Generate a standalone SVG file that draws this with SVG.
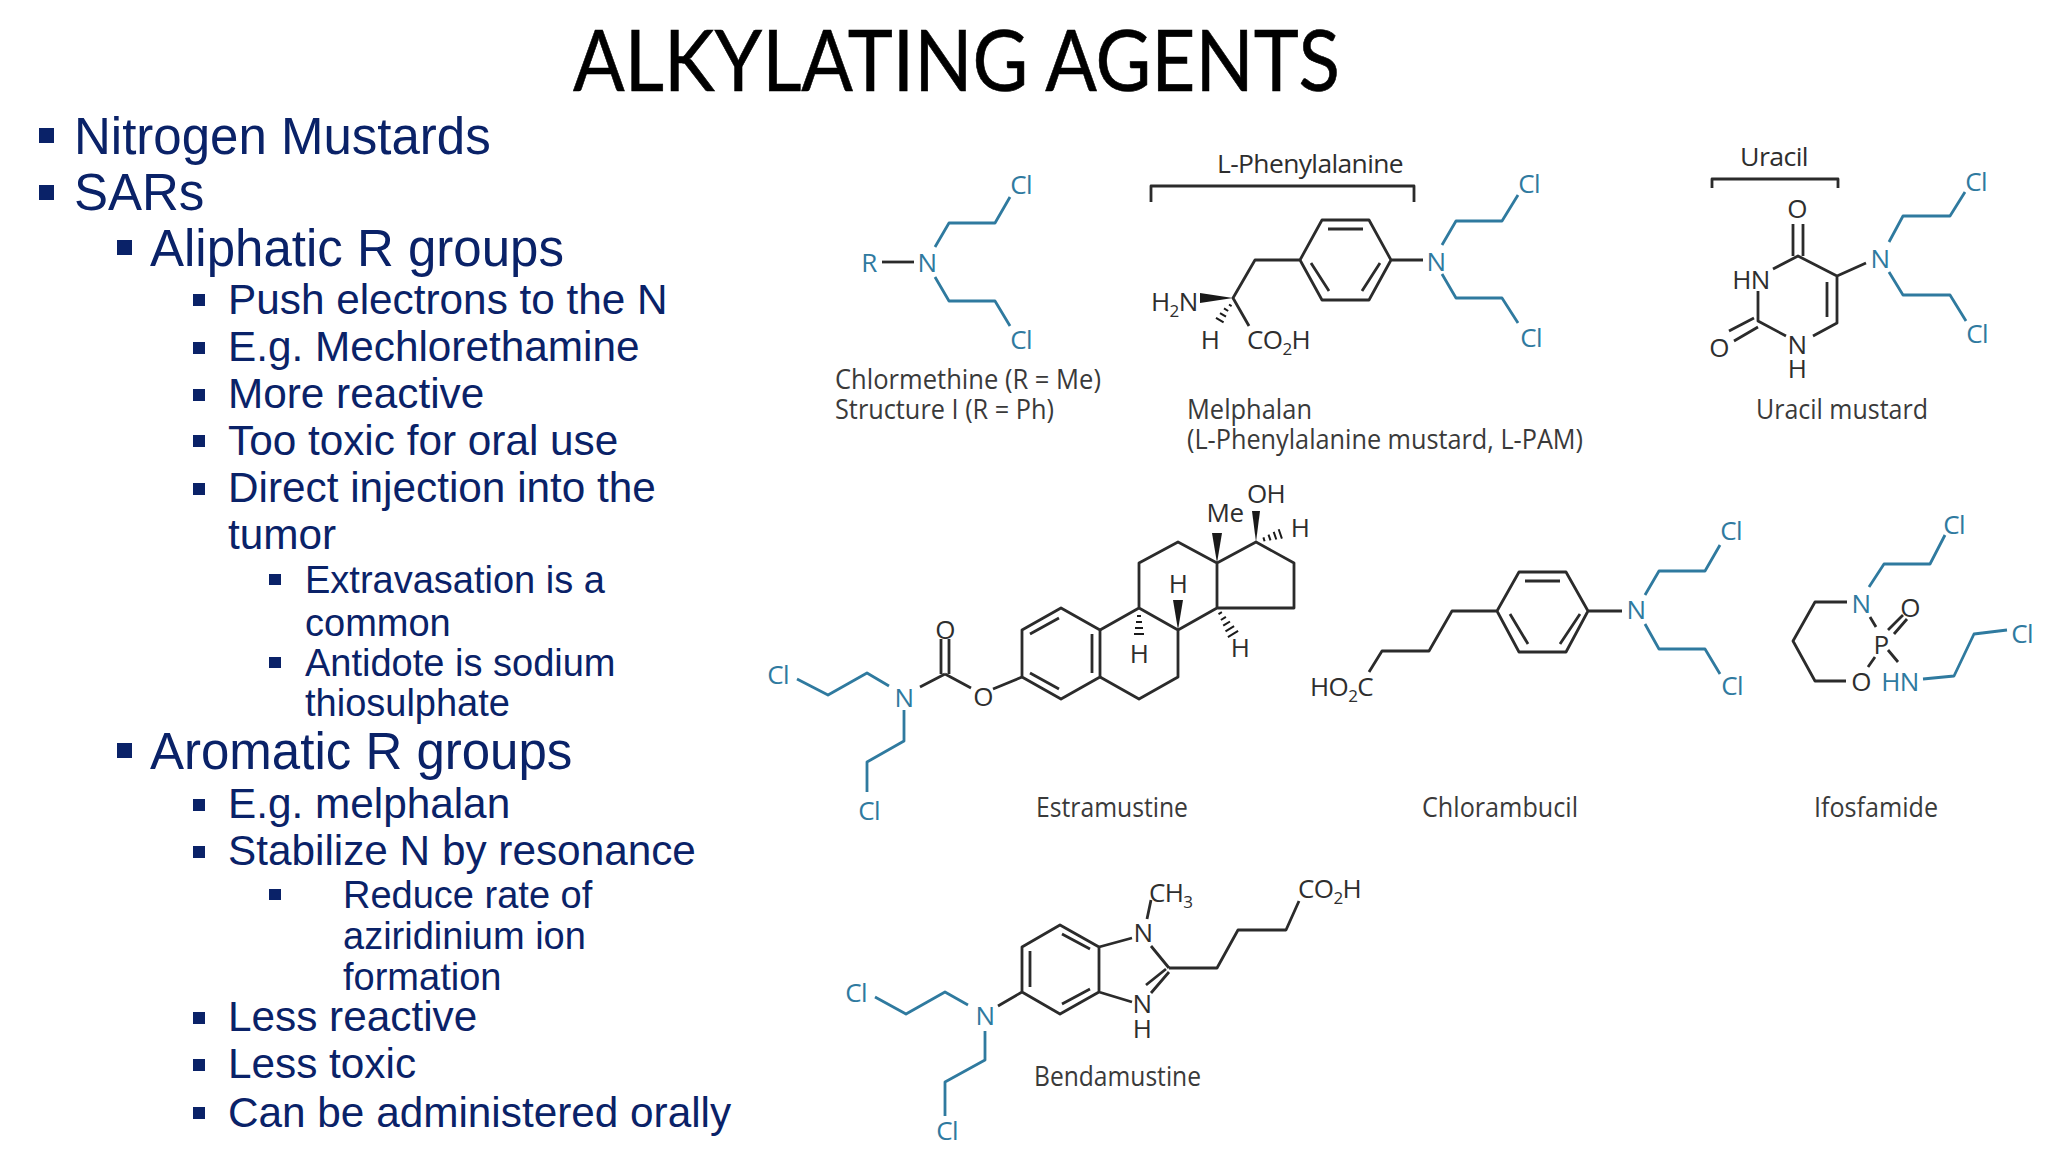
<svg xmlns="http://www.w3.org/2000/svg" width="2048" height="1152" viewBox="0 0 2048 1152">
<style>
.t{font-family:"Liberation Sans",Arial,sans-serif;fill:#0a2268}
.l1{font-size:51px}.l3{font-size:42.3px}.l4{font-size:38px}
.bu{fill:#0a2268}
.title{font-family:Lato,"Open Sans",sans-serif;font-size:85px;fill:#000;stroke:#000;stroke-width:.6}
.k,.kb,.c{font-family:"Open Sans","Noto Sans",sans-serif;font-size:26px;letter-spacing:-.6px}
.k{fill:#2e2e2e}.kb{fill:#2f7a9f}.c{fill:#3a3a3a;font-size:27px;letter-spacing:0}
.m{text-anchor:middle}
.s{font-size:17px}
.d{fill:none;stroke:#2b2b2b;stroke-width:2.8;stroke-linejoin:round}
.b{fill:none;stroke:#2f7a9f;stroke-width:2.8;stroke-linejoin:round}
.w{fill:#1a1a1a}
.h{fill:none;stroke:#1a1a1a;stroke-width:2}
</style>
<rect width="2048" height="1152" fill="#fff"/>
<text id="title" class="title" x="573" y="91" textLength="767" lengthAdjust="spacingAndGlyphs">ALKYLATING AGENTS</text>
<g id="outline">
<rect class="bu" x="39" y="128" width="15" height="15"/><text class="t l1" x="74" y="154">Nitrogen Mustards</text>
<rect class="bu" x="39" y="185" width="15" height="15"/><text class="t l1" x="74" y="210">SARs</text>
<rect class="bu" x="117" y="240" width="15" height="15"/><text class="t l1" x="150" y="266">Aliphatic R groups</text>
<rect class="bu" x="193" y="294" width="12" height="12"/><text class="t l3" x="228" y="314">Push electrons to the N</text>
<rect class="bu" x="193" y="342" width="12" height="12"/><text class="t l3" x="228" y="361">E.g. Mechlorethamine</text>
<rect class="bu" x="193" y="389" width="12" height="12"/><text class="t l3" x="228" y="408">More reactive</text>
<rect class="bu" x="193" y="435" width="12" height="12"/><text class="t l3" x="228" y="455">Too toxic for oral use</text>
<rect class="bu" x="193" y="483" width="12" height="12"/><text class="t l3" x="228" y="502">Direct injection into the</text>
<text class="t l3" x="228" y="549">tumor</text>
<rect class="bu" x="269" y="574" width="12" height="11"/><text class="t l4" x="305" y="593">Extravasation is a</text>
<text class="t l4" x="305" y="636">common</text>
<rect class="bu" x="269" y="657" width="12" height="11"/><text class="t l4" x="305" y="676">Antidote is sodium</text>
<text class="t l4" x="305" y="716">thiosulphate</text>
<rect class="bu" x="117" y="743" width="15" height="15"/><text class="t l1" x="150" y="769">Aromatic R groups</text>
<rect class="bu" x="193" y="799" width="12" height="12"/><text class="t l3" x="228" y="818">E.g. melphalan</text>
<rect class="bu" x="193" y="846" width="12" height="12"/><text class="t l3" x="228" y="865">Stabilize N by resonance</text>
<rect class="bu" x="269" y="889" width="12" height="11"/><text class="t l4" x="343" y="908">Reduce rate of</text>
<text class="t l4" x="343" y="949">aziridinium ion</text>
<text class="t l4" x="343" y="990">formation</text>
<rect class="bu" x="193" y="1012" width="12" height="12"/><text class="t l3" x="228" y="1031">Less reactive</text>
<rect class="bu" x="193" y="1059" width="12" height="12"/><text class="t l3" x="228" y="1078">Less toxic</text>
<rect class="bu" x="193" y="1107" width="12" height="12"/><text class="t l3" x="228" y="1127">Can be administered orally</text>
</g>
<g id="chlormethine" transform="translate(-5,-1)">
<path class="d" d="M887 263H919"/>
<path class="b" d="M940 248L954 224H1000L1015 198M940 278L954 302H1000L1015 327"/>
<text class="kb m" x="874" y="273">R</text><text class="kb m" x="932" y="273">N</text>
<text class="kb m" x="1026" y="195">Cl</text><text class="kb m" x="1026" y="350">Cl</text>
<text class="c" x="840" y="390" textLength="266" lengthAdjust="spacingAndGlyphs">Chlormethine (R = Me)</text>
<text class="c" x="840" y="420" textLength="219" lengthAdjust="spacingAndGlyphs">Structure I (R = Ph)</text>
</g>
<g id="melphalan" transform="translate(-7,-1)">
<path class="d" d="M1158 203V187H1421V203"/>
<text class="k" x="1224" y="174" textLength="186" lengthAdjust="spacingAndGlyphs">L-Phenylalanine</text>
<path class="d" d="M1307 261L1329 221H1376L1398 261L1376 301H1329ZM1318 264L1336 292M1387 264L1369 292M1307 261H1262L1240 299L1256 327M1398 261H1430"/>
<path class="d" stroke-width="4" d="M1335 230H1370"/>
<polygon class="w" points="1240,299 1207,294 1207,304"/>
<path class="h" d="M1236 305.5l2.6 1.6M1231 309.4l4.2 2.6M1227 314.1l6 3.6M1223 318.8l7.6 4.6"/>
<text class="k" x="1158" y="312">H<tspan class="s" dy="6">2</tspan><tspan dy="-6">N</tspan></text>
<text class="k m" x="1217" y="350">H</text>
<text class="k" x="1254" y="350">CO<tspan class="s" dy="6">2</tspan><tspan dy="-6">H</tspan></text>
<path class="b" d="M1449 246L1463 222H1509L1525 196M1449 275L1463 299H1509L1525 324"/>
<text class="kb m" x="1443" y="272">N</text><text class="kb m" x="1536" y="194">Cl</text><text class="kb m" x="1538" y="348">Cl</text>
<text class="c" x="1194" y="420" textLength="125" lengthAdjust="spacingAndGlyphs">Melphalan</text>
<text class="c" x="1194" y="450" textLength="396" lengthAdjust="spacingAndGlyphs">(L-Phenylalanine mustard, L-PAM)</text>
</g>
<g id="uracil-mustard" transform="translate(-9,-1)">
<path class="d" d="M1721 189V180H1847V189"/>
<text class="k" x="1749" y="167" textLength="68" lengthAdjust="spacingAndGlyphs">Uracil</text>
<path class="d" d="M1782 270L1807 257L1846 277V324L1822 337M1795 337L1767 322V292M1836 283V318M1802 225V257M1812 225V257M1846 277L1875 264M1763 319L1738 332M1767 328L1743 342"/>
<text class="k m" x="1806" y="219">O</text><text class="k m" x="1760" y="290">HN</text>
<text class="k m" x="1728" y="358">O</text><text class="k m" x="1806" y="355">N</text><text class="k m" x="1806" y="379">H</text>
<path class="b" d="M1898 243L1912 217H1959L1974 193M1898 273L1912 296H1959L1975 322"/>
<text class="kb m" x="1889" y="269">N</text><text class="kb m" x="1985" y="192">Cl</text><text class="kb m" x="1986" y="344">Cl</text>
<text class="c" x="1765" y="420" textLength="172" lengthAdjust="spacingAndGlyphs">Uracil mustard</text>
</g>
<g id="estramustine" transform="translate(-6,-3)">
<g transform="translate(0,4)">
<path class="d" d="M1028 629L1067 607L1106 629V676L1067 698L1028 676ZM1036 633L1065 617M1098 633V672M1036 672L1065 688"/>
<path class="d" d="M1106 629L1145 607L1184 629V676L1145 698L1106 676M1145 607V562L1184 541L1223 562V607L1184 629M1223 562L1262 541L1300 562V607H1223"/>
<polygon class="w" points="1223,562 1218,532 1228,532"/>
<polygon class="w" points="1262,541 1258,510 1266,510"/>
<polygon class="w" points="1184,629 1179,599 1189,599"/>
<path class="h" d="M1269.4 536.4L1270.6 540.2M1274.5 533.6L1276.5 539.4M1279.7 530.9L1282.3 538.5M1284.7 528.2L1287.9 537.6"/>
<path class="h" stroke-width="3" d="M1143 615h4M1142 621h6M1141 627h8M1140 633h10"/>
<path class="h" d="M1224.5 613.2l3.4-2M1226.9 619l5-3.2M1229.2 624.7l6.8-4.2M1231.5 630.4l8.6-5.2M1233.9 636.1l10.2-6.2"/>
</g>
<path class="d" d="M1028 680L999 692M977 691L951 677M947 642V677M955 642V677M926 690L951 677"/>
<text class="k m" x="1231" y="525">Me</text><text class="k m" x="1272" y="506">OH</text><text class="k m" x="1306" y="540">H</text>
<text class="k m" x="1184" y="596">H</text><text class="k m" x="1145" y="666">H</text><text class="k m" x="1246" y="660">H</text>
<text class="k m" x="989" y="709">O</text><text class="k m" x="951" y="642">O</text>
<path class="b" d="M895 689L873 676L834 698L803 682M910 713V744L873 765V795"/>
<text class="kb m" x="910" y="710">N</text><text class="kb m" x="784" y="687">Cl</text><text class="kb m" x="875" y="823">Cl</text>
<text class="c" x="1042" y="820" textLength="152" lengthAdjust="spacingAndGlyphs">Estramustine</text>
</g>
<g id="chlorambucil" transform="translate(-8,-3)">
<g transform="translate(0,5)">
<path class="d" d="M1505 609L1527 570H1574L1596 609L1574 650H1527ZM1518 612L1536 642M1588 612L1568 642M1505 609H1460L1437 649H1390L1377 670M1596 609H1630"/>
<path class="d" stroke-width="4.5" d="M1533 579H1568"/>
</g>
<text class="k" x="1318" y="699">HO<tspan class="s" dy="6">2</tspan><tspan dy="-6">C</tspan></text>
<path class="b" transform="translate(0,3)" d="M1653 595L1667 571H1713L1728 545M1653 624L1667 649H1713L1728 674"/>
<text class="kb m" x="1644" y="622">N</text><text class="kb m" x="1739" y="543">Cl</text><text class="kb m" x="1740" y="698">Cl</text>
<text class="c" x="1430" y="820" textLength="156" lengthAdjust="spacingAndGlyphs">Chlorambucil</text>
</g>
<g id="ifosfamide" transform="translate(-9,-3)">
<path class="d" d="M1856 605H1824L1802 644L1824 684H1855M1877 670L1884 660M1879 620L1885 630M1897 633L1912 618M1903 637L1916 622M1897 653L1907 665"/>
<path class="b" d="M1878 590L1893 567H1939L1954 538M1932 682L1963 679L1983 637L2016 633"/>
<text class="kb m" x="1870" y="616">N</text><text class="k m" x="1870" y="694">O</text><text class="k m" x="1890" y="657">P</text><text class="k m" x="1919" y="620">O</text>
<text class="kb m" x="1909" y="694">HN</text><text class="kb m" x="2031" y="646">Cl</text><text class="kb m" x="1963" y="537">Cl</text>
<text class="c" x="1823" y="820" textLength="124" lengthAdjust="spacingAndGlyphs">Ifosfamide</text>
</g>
<g id="bendamustine" transform="translate(-8,-5)">
<path class="d" transform="translate(0,4)" d="M1030 948L1068 926L1107 948V993L1068 1015L1030 993ZM1070 935L1098 950M1038 952V988M1070 1005L1098 990M1107 948L1140 939M1159 947L1177 969M1174 970L1154 986M1177 973L1159 994M1107 993L1140 1003M1030 993L1006 1007"/>
<path class="d" d="M1159 905L1155 924M1177 973H1225L1246 935H1294L1307 906"/>
<text class="k m" x="1151" y="947">N</text><text class="k m" x="1150" y="1018">N</text><text class="k m" x="1150" y="1043">H</text>
<text class="k" x="1157" y="907">CH<tspan class="s" dy="6">3</tspan></text>
<text class="k" x="1306" y="903">CO<tspan class="s" dy="6">2</tspan><tspan dy="-6">H</tspan></text>
<g transform="translate(3,4)">
<path class="b" d="M973 1006L950 993L911 1015L880 998M990 1032V1061L950 1083V1117"/>
<text class="kb m" x="990" y="1026">N</text><text class="kb m" x="861" y="1003">Cl</text><text class="kb m" x="952" y="1141">Cl</text>
</g>
<text class="c" x="1042" y="1091" textLength="167" lengthAdjust="spacingAndGlyphs">Bendamustine</text>
</g>
</svg>
